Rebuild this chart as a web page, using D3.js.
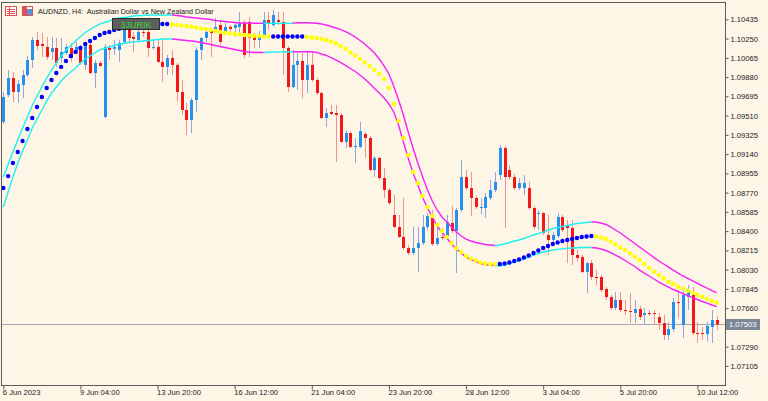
<!DOCTYPE html>
<html><head><meta charset="utf-8">
<script src="https://cdn.jsdelivr.net/npm/d3@7"></script>
<style>
html,body{margin:0;padding:0;background:#fdf5e6;}
svg{display:block;}
text{font-family:"Liberation Sans",Arial,sans-serif;}
</style></head><body>
<svg id="chart" width="768" height="401"></svg>
<script>
const symbolTitle = "AUDNZD, H4:  Australian Dollar vs New Zealand Dollar";
const indicatorName = "3JURIK";
const lastPrice = 1.07503;

const opens = [
1.09449,1.09708,1.09871,1.09737,1.09804,1.09900,1.10045,1.10237,1.10199,1.10170,
1.10122,1.10160,1.10064,1.10112,1.10160,1.10131,1.10141,1.09997,1.10189,1.09919,
1.10016,1.09497,1.10160,1.10151,1.10141,1.10218,1.10333,1.10266,1.10237,1.10314,
1.10314,1.10160,1.10170,1.10026,1.09978,1.10064,1.09997,1.09737,1.09564,1.09468,
1.09660,1.10141,1.10256,1.10323,1.10314,1.10381,1.10314,1.10362,1.10352,1.10362,
1.10400,1.10410,1.10285,1.10237,1.10285,1.10429,1.10381,1.10429,1.10410,1.10160,
1.09785,1.09997,1.10035,1.09852,1.09997,1.09852,1.09727,1.09487,1.09545,1.09535,
1.09516,1.09257,1.09343,1.09209,1.09209,1.09334,1.09295,1.08987,1.09103,1.08910,
1.08795,1.08555,1.08440,1.08344,1.08238,1.08190,1.08238,1.08286,1.08440,1.08545,
1.08277,1.08344,1.08344,1.08478,1.08401,1.08603,1.08920,1.08814,1.08718,1.08622,
1.08622,1.08718,1.08795,1.08939,1.09199,1.08987,1.08920,1.08814,1.08814,1.08814,
1.08622,1.08565,1.08574,1.08363,1.08315,1.08353,1.08536,1.08459,1.08430,1.08171,
1.08151,1.08007,1.08093,1.07959,1.07959,1.07844,1.07767,1.07661,1.07738,1.07642,
1.07632,1.07613,1.07652,1.07594,1.07613,1.07613,1.07575,1.07517,1.07402,1.07459,
1.07719,1.07498,1.07767,1.07786,1.07421,1.07421,1.07411,1.07479,1.07546];

const highs = [
1.09737,1.09948,1.09929,1.09852,1.09948,1.10083,1.10266,1.10314,1.10304,1.10266,
1.10266,1.10256,1.10256,1.10199,1.10208,1.10218,1.10189,1.10218,1.10218,1.10045,
1.10035,1.10199,1.10189,1.10237,1.10237,1.10352,1.10362,1.10314,1.10362,1.10352,
1.10333,1.10237,1.10237,1.10237,1.10093,1.10141,1.10016,1.09852,1.09631,1.09679,
1.10170,1.10266,1.10352,1.10352,1.10448,1.10429,1.10400,1.10381,1.10400,1.10506,
1.10429,1.10458,1.10304,1.10323,1.10506,1.10506,1.10525,1.10506,1.10506,1.10179,
1.10141,1.10112,1.10112,1.10122,1.10122,1.09871,1.09737,1.09583,1.09612,1.09612,
1.09535,1.09372,1.09362,1.09295,1.09449,1.09353,1.09314,1.09122,1.09112,1.09006,
1.08814,1.08747,1.08555,1.08718,1.08267,1.08440,1.08440,1.08555,1.08574,1.08603,
1.08478,1.08430,1.08555,1.08641,1.08622,1.09083,1.08987,1.08968,1.08747,1.08718,
1.08766,1.08891,1.08968,1.09228,1.09218,1.09035,1.08949,1.08910,1.08939,1.08872,
1.08641,1.08603,1.08584,1.08555,1.08392,1.08574,1.08555,1.08507,1.08507,1.08219,
1.08171,1.08103,1.08122,1.08026,1.07978,1.07863,1.07786,1.07815,1.07815,1.07738,
1.07805,1.07738,1.07681,1.07661,1.07642,1.07642,1.07613,1.07594,1.07527,1.07757,
1.07834,1.07863,1.07882,1.07863,1.07527,1.07479,1.07527,1.07642,1.07584];

const lows = [
1.09430,1.09689,1.09641,1.09631,1.09679,1.09881,1.09968,1.10141,1.10074,1.10045,
1.10045,1.09978,1.10016,1.10093,1.10026,1.10112,1.09997,1.09948,1.09910,1.09775,
1.09978,1.09487,1.10045,1.10093,1.10026,1.10208,1.10208,1.10122,1.10227,1.10266,
1.10074,1.10141,1.10016,1.09833,1.09900,1.09900,1.09641,1.09516,1.09324,1.09343,
1.09545,1.10045,1.10218,1.10074,1.10304,1.10189,1.10285,1.10304,1.10266,1.10285,
1.10064,1.10074,1.10160,1.10160,1.10266,1.10333,1.10362,1.10381,1.09900,1.09737,
1.09775,1.09756,1.09679,1.09727,1.09833,1.09708,1.09478,1.09401,1.09516,1.09064,
1.09247,1.09199,1.09199,1.09054,1.09199,1.09103,1.08977,1.08920,1.08891,1.08718,
1.08651,1.08430,1.08334,1.08219,1.08171,1.08171,1.08007,1.08267,1.08411,1.08257,
1.08257,1.08315,1.08315,1.08382,1.07997,1.08584,1.08795,1.08545,1.08612,1.08565,
1.08526,1.08699,1.08776,1.08891,1.08430,1.08891,1.08795,1.08795,1.08747,1.08603,
1.08420,1.08411,1.08363,1.08171,1.08286,1.08334,1.08392,1.08093,1.08074,1.08103,
1.07997,1.07805,1.07930,1.07882,1.07815,1.07738,1.07642,1.07642,1.07623,1.07594,
1.07517,1.07517,1.07546,1.07498,1.07584,1.07498,1.07450,1.07354,1.07354,1.07431,
1.07565,1.07373,1.07642,1.07402,1.07325,1.07354,1.07335,1.07325,1.07450];

const closes = [
1.09689,1.09871,1.09737,1.09814,1.09900,1.10045,1.10237,1.10179,1.10179,1.10074,
1.10160,1.10016,1.10122,1.10170,1.10064,1.10170,1.10016,1.10189,1.09919,1.10016,
1.09987,1.10170,1.10141,1.10170,1.10208,1.10333,1.10256,1.10247,1.10314,1.10304,
1.10160,1.10170,1.10026,1.09978,1.10064,1.09997,1.09737,1.09564,1.09468,1.09660,
1.10141,1.10256,1.10314,1.10304,1.10362,1.10218,1.10362,1.10343,1.10381,1.10400,
1.10093,1.10256,1.10237,1.10266,1.10429,1.10400,1.10477,1.10410,1.10160,1.09785,
1.09997,1.10035,1.09852,1.09997,1.09852,1.09727,1.09487,1.09535,1.09526,1.09516,
1.09257,1.09343,1.09209,1.09218,1.09362,1.09295,1.08987,1.09103,1.08910,1.08795,
1.08670,1.08440,1.08344,1.08238,1.08190,1.08238,1.08286,1.08440,1.08545,1.08277,
1.08334,1.08334,1.08488,1.08401,1.08603,1.08920,1.08814,1.08718,1.08632,1.08632,
1.08728,1.08795,1.08872,1.09199,1.08920,1.08920,1.08814,1.08862,1.08862,1.08622,
1.08440,1.08574,1.08382,1.08315,1.08363,1.08536,1.08411,1.08430,1.08171,1.08142,
1.08007,1.08093,1.07959,1.07949,1.07834,1.07767,1.07661,1.07738,1.07642,1.07632,
1.07623,1.07652,1.07575,1.07613,1.07604,1.07604,1.07517,1.07402,1.07459,1.07719,
1.07709,1.07786,1.07834,1.07421,1.07411,1.07411,1.07488,1.07546,1.07503];

const jurikUpper = [
1.08920,1.09040,1.09161,1.09276,1.09391,1.09497,1.09607,1.09698,1.09785,1.09871,
1.09948,1.10016,1.10083,1.10141,1.10184,1.10227,1.10270,1.10309,1.10337,1.10366,
1.10390,1.10405,1.10419,1.10434,1.10448,1.10453,1.10458,1.10467,1.10472,1.10472,
1.10477,1.10477,1.10477,1.10477,1.10477,1.10477,1.10472,1.10467,1.10458,1.10453,
1.10448,1.10443,1.10438,1.10434,1.10424,1.10419,1.10414,1.10410,1.10405,1.10400,
1.10400,1.10397,1.10397,1.10397,1.10397,1.10397,1.10397,1.10397,1.10397,1.10397,
1.10397,1.10403,1.10403,1.10402,1.10400,1.10397,1.10390,1.10381,1.10366,1.10352,
1.10337,1.10318,1.10294,1.10265,1.10232,1.10198,1.10155,1.10112,1.10054,1.09987,
1.09910,1.09795,1.09660,1.09516,1.09352,1.09199,1.09054,1.08920,1.08795,1.08689,
1.08603,1.08536,1.08488,1.08440,1.08391,1.08353,1.08324,1.08305,1.08291,1.08281,
1.08271,1.08267,1.08262,1.08267,1.08276,1.08291,1.08305,1.08315,1.08329,1.08348,
1.08363,1.08377,1.08391,1.08411,1.08425,1.08435,1.08444,1.08454,1.08464,1.08473,
1.08478,1.08483,1.08488,1.08488,1.08478,1.08464,1.08440,1.08411,1.08382,1.08348,
1.08315,1.08281,1.08247,1.08214,1.08180,1.08146,1.08113,1.08084,1.08055,1.08026,
1.07997,1.07969,1.07945,1.07921,1.07897,1.07873,1.07853,1.07829,1.07810];

const jurikLower = [
1.08632,1.08776,1.08920,1.09054,1.09170,1.09276,1.09391,1.09477,1.09564,1.09650,
1.09727,1.09785,1.09843,1.09891,1.09929,1.09968,1.10016,1.10054,1.10083,1.10112,
1.10141,1.10155,1.10169,1.10184,1.10193,1.10203,1.10213,1.10217,1.10222,1.10227,
1.10232,1.10237,1.10241,1.10246,1.10246,1.10246,1.10241,1.10237,1.10232,1.10227,
1.10222,1.10213,1.10203,1.10193,1.10184,1.10174,1.10165,1.10155,1.10145,1.10136,
1.10126,1.10121,1.10117,1.10117,1.10117,1.10119,1.10121,1.10122,1.10124,1.10124,
1.10124,1.10124,1.10124,1.10124,1.10123,1.10117,1.10102,1.10088,1.10068,1.10045,
1.10020,1.09992,1.09963,1.09934,1.09900,1.09862,1.09819,1.09771,1.09727,1.09679,
1.09622,1.09545,1.09420,1.09256,1.09103,1.08958,1.08843,1.08723,1.08622,1.08536,
1.08449,1.08391,1.08334,1.08276,1.08228,1.08190,1.08151,1.08127,1.08108,1.08089,
1.08079,1.08074,1.08070,1.08065,1.08074,1.08089,1.08103,1.08118,1.08132,1.08151,
1.08170,1.08185,1.08199,1.08209,1.08219,1.08225,1.08230,1.08235,1.08238,1.08240,
1.08243,1.08243,1.08243,1.08238,1.08228,1.08214,1.08194,1.08170,1.08146,1.08118,
1.08089,1.08060,1.08026,1.07997,1.07969,1.07940,1.07911,1.07887,1.07863,1.07839,
1.07820,1.07800,1.07781,1.07762,1.07743,1.07724,1.07709,1.07690,1.07675];

const jurikMid = [
1.08814,1.08929,1.09054,1.09161,1.09266,1.09382,1.09487,1.09593,1.09689,1.09775,
1.09852,1.09919,1.09978,1.10035,1.10083,1.10122,1.10160,1.10199,1.10227,1.10256,
1.10285,1.10304,1.10314,1.10333,1.10343,1.10352,1.10362,1.10366,1.10371,1.10376,
1.10381,1.10381,1.10386,1.10390,1.10390,1.10386,1.10381,1.10376,1.10371,1.10366,
1.10357,1.10347,1.10342,1.10333,1.10323,1.10314,1.10304,1.10299,1.10294,1.10289,
1.10285,1.10280,1.10275,1.10275,1.10270,1.10270,1.10270,1.10270,1.10270,1.10270,
1.10270,1.10270,1.10270,1.10266,1.10261,1.10256,1.10246,1.10237,1.10222,1.10203,
1.10179,1.10150,1.10117,1.10088,1.10054,1.10020,1.09987,1.09948,1.09910,1.09862,
1.09775,1.09622,1.09458,1.09295,1.09131,1.08968,1.08862,1.08737,1.08632,1.08545,
1.08459,1.08401,1.08344,1.08286,1.08238,1.08199,1.08161,1.08137,1.08118,1.08098,
1.08089,1.08084,1.08084,1.08084,1.08089,1.08098,1.08113,1.08127,1.08146,1.08166,
1.08190,1.08214,1.08238,1.08257,1.08276,1.08291,1.08305,1.08315,1.08324,1.08334,
1.08344,1.08348,1.08353,1.08348,1.08339,1.08324,1.08300,1.08271,1.08242,1.08219,
1.08187,1.08154,1.08122,1.08084,1.08045,1.08010,1.07978,1.07947,1.07914,1.07892,
1.07866,1.07850,1.07827,1.07808,1.07786,1.07770,1.07748,1.07728,1.07712];

// trend segments (start bar index, 1 = up)
const dotSegStart = [0, 35, 56, 63, 103, 123];
const dotSegUp    = [1, 0, 1, 0, 1, 0];
const bandSegStart = [0, 36, 55, 61, 103, 123];
const bandSegUp    = [1, 0, 1, 0, 1, 0];

const priceTicks = [1.10435,1.10250,1.10065,1.09880,1.09695,1.09510,1.09325,1.09140,1.08955,1.08770,
  1.08585,1.08400,1.08215,1.08030,1.07845,1.07660,1.07475,1.07290,1.07105];
const timeTickIndex = [0,16,32,48,64,80,96,112,128,144];
const timeTickLabels = ["6 Jun 2023","9 Jun 04:00","13 Jun 20:00","16 Jun 12:00","21 Jun 04:00",
  "23 Jun 20:00","28 Jun 12:00","3 Jul 04:00","5 Jul 20:00","10 Jul 12:00"];

// ---------------- drawing ----------------
const W = 768, H = 401;
const P = {left: 1, top: 2, right: 725, bottom: 385};
const BG = "#fdf5e6";
const svg = d3.select("#chart");
svg.append("rect").attr("width", W).attr("height", H).attr("fill", BG);

const n = closes.length;
const x = d3.scaleLinear().domain([0, n - 1]).range([3.3, 716.7]);
const y = d3.scaleLinear().domain([1.07105, 1.10435]).range([365.9, 19.35]);

svg.append("clipPath").attr("id", "clip").append("rect")
  .attr("x", P.left).attr("y", P.top).attr("width", P.right - P.left).attr("height", P.bottom - P.top);
const g = svg.append("g").attr("clip-path", "url(#clip)");

// current price line
g.append("line").attr("x1", P.left).attr("x2", P.right)
  .attr("y1", Math.round(y(lastPrice)) + 0.5).attr("y2", Math.round(y(lastPrice)) + 0.5)
  .attr("stroke", "#a4a8b0").attr("stroke-width", 1);

// candles
const bars = d3.range(n);
const cg = g.append("g");
bars.forEach(i => {
  const up = closes[i] >= opens[i];
  const cx = Math.round(x(i));
  cg.append("line").attr("x1", cx + 0.5).attr("x2", cx + 0.5)
    .attr("y1", y(highs[i])).attr("y2", y(lows[i]))
    .attr("stroke", up ? "#8fa6e0" : "#f39090").attr("stroke-width", 1);
  const yt = y(Math.max(opens[i], closes[i]));
  const yb = y(Math.min(opens[i], closes[i]));
  cg.append("rect").attr("x", cx - 1).attr("width", 3)
    .attr("y", yt).attr("height", Math.max(1, yb - yt))
    .attr("fill", up ? "#2590ee" : "#f01818");
});

// bands
function segRanges(starts) {
  return starts.map((s, k) => [s, k < starts.length - 1 ? starts[k + 1] - 1 : n - 1]);
}
const lineGen = arr => d3.line().x(i => x(i)).y(i => y(arr[i]));
segRanges(bandSegStart).forEach(([s, e], k) => {
  const idx = d3.range(Math.max(0, s - 1), e + 1);
  const col = bandSegUp[k] ? "#1ff0f0" : "#f422f4";
  [jurikUpper, jurikLower].forEach(arr => {
    g.append("path").attr("d", lineGen(arr)(idx)).attr("fill", "none")
      .attr("stroke", col).attr("stroke-width", 1.4);
  });
});

// dots
segRanges(dotSegStart).forEach(([s, e], k) => {
  const col = dotSegUp[k] ? "#0000ff" : "#ffff00";
  g.append("g").selectAll("circle").data(d3.range(s, e + 1)).join("circle")
    .attr("cx", i => x(i)).attr("cy", i => y(jurikMid[i])).attr("r", 2.2).attr("fill", col);
});

// frame
svg.append("rect").attr("x", P.left + 0.5).attr("y", P.top + 0.5)
  .attr("width", P.right - P.left).attr("height", P.bottom - P.top)
  .attr("fill", "none").attr("stroke", "#5a5a5a").attr("stroke-width", 1);

// right price axis
const yAxis = d3.axisRight(y).tickValues(priceTicks).tickFormat(d3.format(".5f")).tickSize(3).tickPadding(2);
const ya = svg.append("g").attr("transform", `translate(${P.right + 0.5},0)`).call(yAxis);
ya.select(".domain").remove();
ya.selectAll("line").attr("stroke", "#5a5a5a");
ya.selectAll("text").attr("font-size", "7.6px").attr("fill", "#222").attr("font-family", "Liberation Sans, Arial, sans-serif");

// bottom time axis
const xAxis = d3.axisBottom(x).tickValues(timeTickIndex).tickFormat((d, i) => timeTickLabels[i]).tickSize(4).tickPadding(0);
const xa = svg.append("g").attr("transform", `translate(0,${P.bottom + 0.5})`).call(xAxis);
xa.select(".domain").remove();
xa.selectAll(".tick line").attr("stroke", "#5a5a5a");
xa.selectAll("text").attr("font-size", "7.6px").attr("fill", "#222").attr("text-anchor", "start")
  .attr("dx", "-1").attr("font-family", "Liberation Sans, Arial, sans-serif");

// current price label (drawn over the hidden tick label, as in the terminal)
const ly = Math.round(y(lastPrice));
svg.append("rect").attr("x", 726).attr("y", ly - 5).attr("width", 34).attr("height", 11).attr("fill", "#7b8797");
svg.append("text").attr("x", 729).attr("y", ly + 3).attr("font-size", "7.6px").attr("fill", "#ffffff")
  .text(d3.format(".5f")(lastPrice));

// title icons
const ic = svg.append("g");
ic.append("rect").attr("x", 5.5).attr("y", 6.5).attr("width", 11).attr("height", 9).attr("fill", "#fff").attr("stroke", "#e05050");
[9, 11, 13].forEach(yy => ic.append("line").attr("x1", 7).attr("x2", 15).attr("y1", yy + 0.5).attr("y2", yy + 0.5).attr("stroke", "#e05050"));
ic.append("line").attr("x1", 9.5).attr("x2", 9.5).attr("y1", 7).attr("y2", 15).attr("stroke", "#e05050");
ic.append("rect").attr("x", 22.5).attr("y", 6.5).attr("width", 10).attr("height", 9).attr("fill", "#fff").attr("stroke", "#e05050");
ic.append("rect").attr("x", 27).attr("y", 9).attr("width", 5).attr("height", 6).attr("fill", "#5a8fd8");
ic.append("rect").attr("x", 23).attr("y", 7).attr("width", 4).attr("height", 8).attr("fill", "#e05050");

svg.append("text").attr("x", 38).attr("y", 14).attr("font-size", "7.2px").attr("fill", "#222")
  .style("white-space", "pre").text(symbolTitle);

// indicator label
svg.append("rect").attr("x", 112.5).attr("y", 18.5).attr("width", 47).attr("height", 11)
  .attr("fill", "#5e5e5e").attr("stroke", "#2e2e2e");
svg.append("text").attr("x", 136).attr("y", 27.5).attr("text-anchor", "middle").attr("font-size", "9px")
  .attr("fill", "#2ed82e").text(indicatorName);
</script>
</body></html>
